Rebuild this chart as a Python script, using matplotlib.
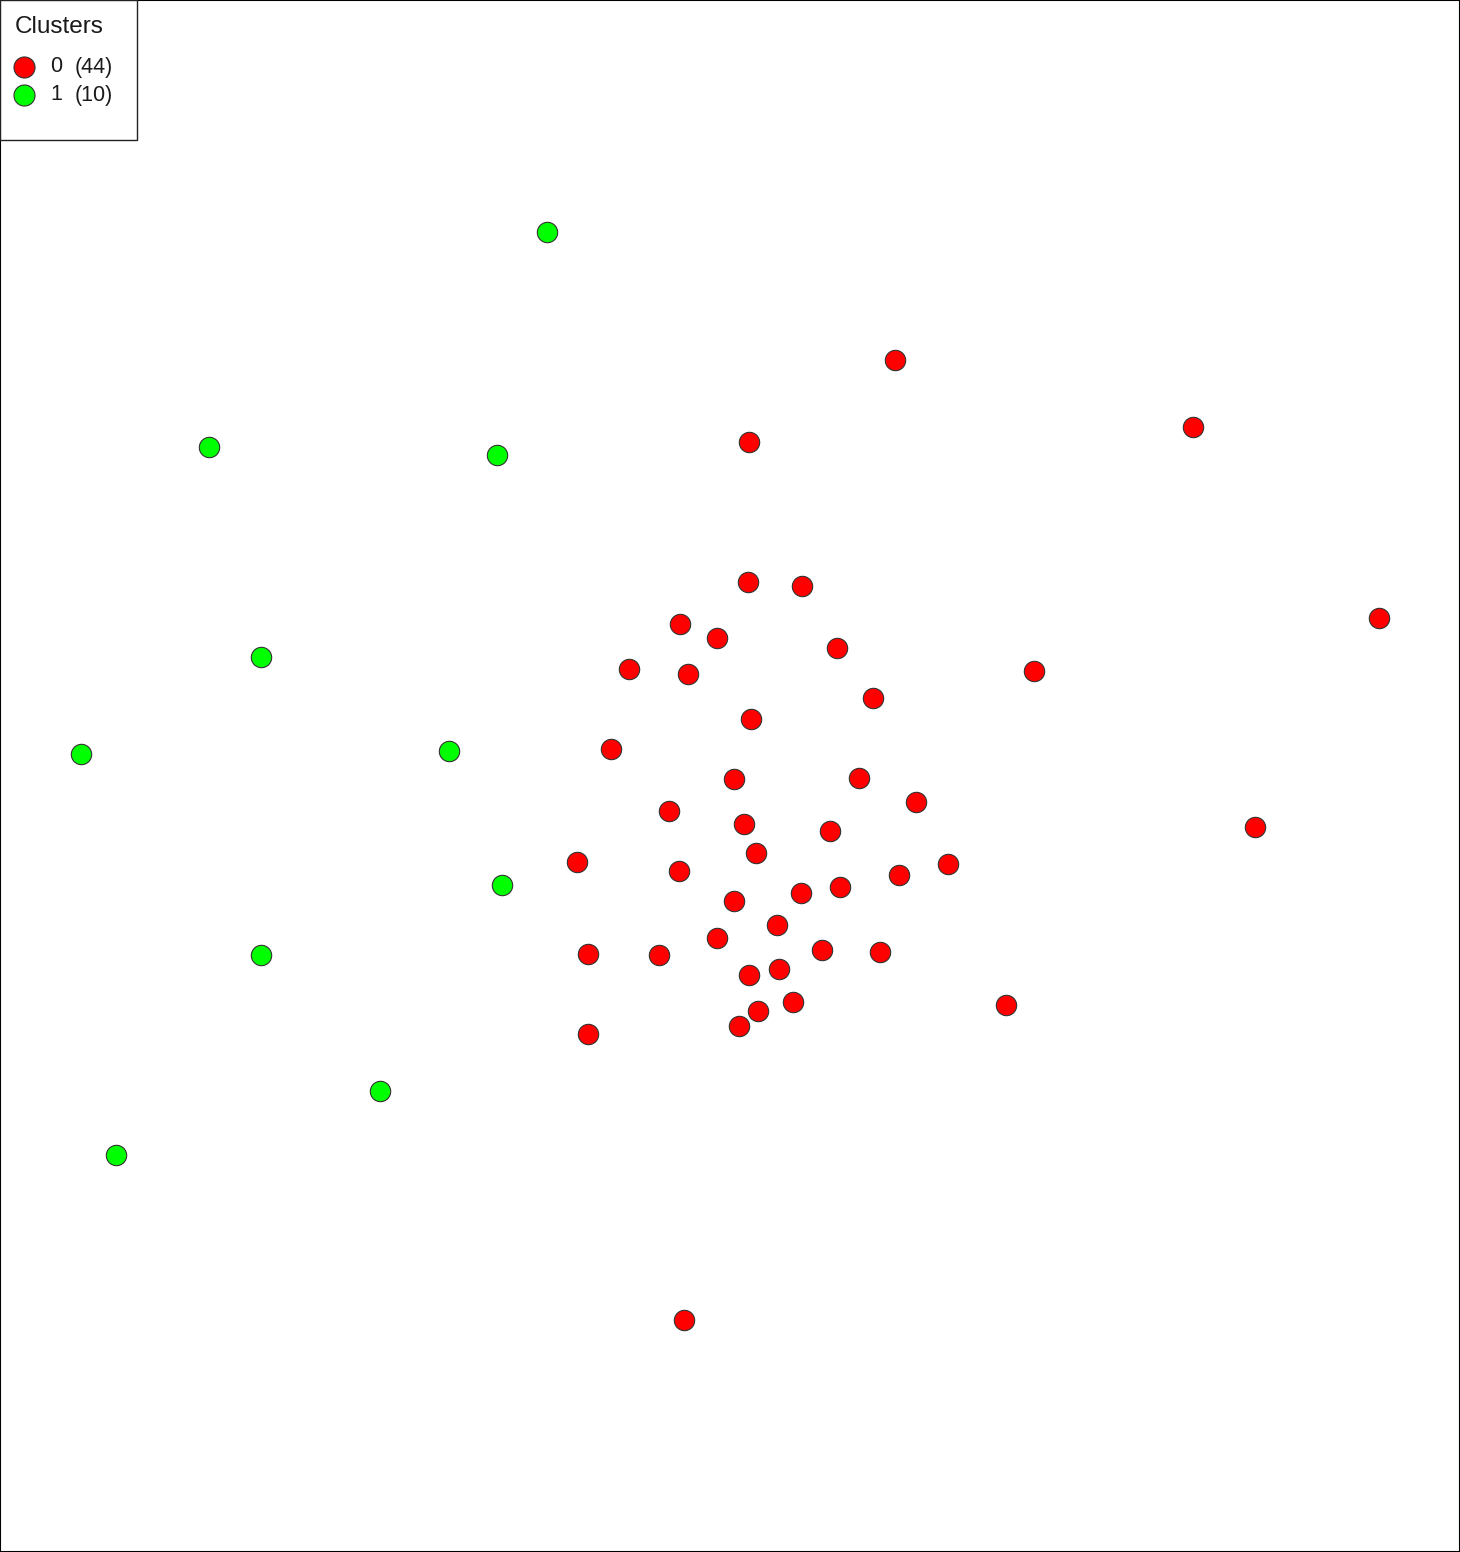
import matplotlib.pyplot as plt
from matplotlib.patches import Rectangle

plt.rcParams['font.family'] = ['Liberation Sans', 'DejaVu Sans']

# point positions (x to the right, y downwards)
red_x = [895, 1193, 749, 748, 802, 1379, 680, 717, 837, 629, 688, 1034, 873, 751,
         611, 734, 859, 916, 669, 744, 830, 1255, 756, 577, 679, 948, 899, 840,
         801, 734, 777, 717, 588, 659, 822, 880, 749, 779, 793, 758, 739, 1006,
         588, 684]
red_y = [360, 427, 442, 582, 586, 618, 624, 638, 648, 669, 674, 671, 698, 719,
         749, 779, 778, 802, 811, 824, 831, 827, 853, 862, 871, 864, 875, 887,
         893, 901, 925, 938, 954, 955, 950, 952, 975, 969, 1002, 1011, 1026, 1005,
         1034, 1320]
green_x = [547, 209, 497, 261, 81, 449, 502, 261, 380, 116]
green_y = [232, 447, 455, 657, 754, 751, 885, 955, 1091, 1155]

cluster_names = ["0", "1"]
cluster_colors = ["#ff0000", "#00ff00"]


def draw_legend(ax, groups):
    # boxed legend in the top left corner, laid out in pixel units
    ax.add_patch(Rectangle((0, 0), 137, 140, facecolor="white", edgecolor="#222222",
                           linewidth=1.0, zorder=4))
    ax.text(15, 27, "Clusters", fontsize=17.5, va="center", ha="left",
            color="#1a1a1a", zorder=5)
    for i, ((xs, ys), name, col) in enumerate(zip(groups, cluster_names, cluster_colors)):
        y = 67 + 28 * i
        ax.scatter([24], [y], s=230, c=col, edgecolors="#333333", linewidths=0.8,
                   zorder=5)
        ax.text(50, y, name, fontsize=15.5, va="center", ha="left",
                color="#1a1a1a", zorder=5)
        ax.text(75, y, f"({len(xs)})", fontsize=15.5, va="center", ha="left",
                color="#1a1a1a", zorder=5)


def main():
    fig = plt.figure(figsize=(14.6, 15.52), dpi=100)
    ax = fig.add_axes([0, 0, 1, 1])
    ax.set_xlim(0, 1460)
    ax.set_ylim(1552, 0)
    ax.set_xticks([])
    ax.set_yticks([])
    for s in ax.spines.values():
        s.set_color("black")
        s.set_linewidth(1.5)

    groups = [(red_x, red_y), (green_x, green_y)]
    for (xs, ys), col in zip(groups, cluster_colors):
        ax.scatter(xs, ys, s=215, c=col, edgecolors="#333333", linewidths=0.8, zorder=3)

    draw_legend(ax, groups)

    fig.savefig("out.png", dpi=100)


if __name__ == "__main__":
    main()
